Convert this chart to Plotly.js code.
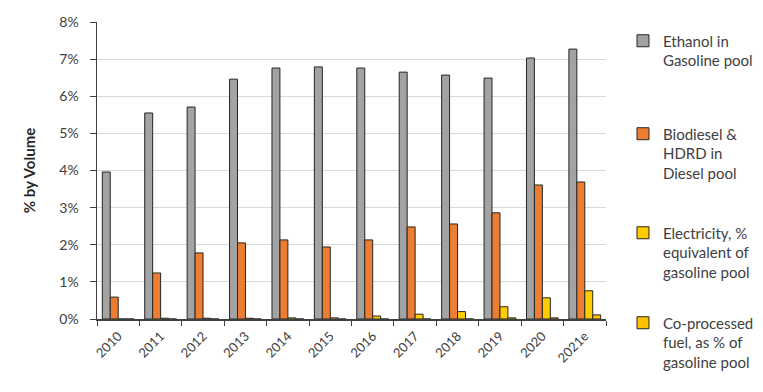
<!DOCTYPE html>
<html>
<head>
<meta charset="utf-8">
<script src="https://cdn.plot.ly/plotly-3.0.1.min.js"></script>
<style>html,body{margin:0;padding:0;background:#fff;}#chart{width:763px;height:392px;}</style>
</head>
<body>
<div id="chart"></div>
<script>
const years = ["2010","2011","2012","2013","2014","2015","2016","2017","2018","2019","2020","2021e"];
const ethanol = [3.96,5.55,5.71,6.46,6.76,6.79,6.76,6.65,6.57,6.49,7.03,7.27];
const biodiesel = [0.59,1.24,1.78,2.05,2.13,1.94,2.13,2.48,2.56,2.86,3.61,3.69];
const electricity = [0.0,0.02,0.02,0.02,0.03,0.03,0.08,0.13,0.20,0.33,0.57,0.76];
const coprocessed = [0.0,0.0,0.0,0.0,0.0,0.0,0.0,0.0,0.0,0.03,0.03,0.11];
const seriesNames = ["Ethanol in<br>Gasoline pool","Biodiesel &amp;<br>HDRD in<br>Diesel pool","Electricity, %<br>equivalent of<br>gasoline pool","Co-processed<br>fuel, as % of<br>gasoline pool"];
const colors = ["#a3a3a3","#ed7d31","#ffcc00","#ffc000"];
const legendIds = ["legend","legend2","legend3","legend4"];
const data = [ethanol, biodiesel, electricity, coprocessed].map((v,i)=>({
  type:"bar", x:years, y:v, name:seriesNames[i], legend:legendIds[i],
  marker:{color:colors[i], line:{color:"#262626", width:1}},
  hoverinfo:"x+y"
}));
const font = "Lato, 'Open Sans', sans-serif";
const legendY = [0.9375, 0.7003, 0.4477, 0.2181];
const layout = {
  width:763, height:392,
  margin:{l:97, r:157, t:22, b:73, autoexpand:false},
  paper_bgcolor:"#fff", plot_bgcolor:"#fff",
  barmode:"group", bargap:0.25, bargroupgap:0,
  font:{family:font, size:13, color:"#404040"},
  xaxis:{type:"category", tickangle:-45, tickson:"boundaries", ticks:"outside", ticklen:5,
    tickcolor:"#404040", showline:true, linecolor:"#404040", linewidth:1.5, showgrid:false,
    tickfont:{size:13, color:"#404040"}, ticklabelstandoff:3},
  yaxis:{range:[0,8], dtick:1, ticksuffix:"%", ticks:"outside", ticklen:6, tickcolor:"#404040",
    showline:true, linecolor:"#404040", linewidth:1.5, gridcolor:"#d9d9d9", zeroline:false,
    tickfont:{size:14, color:"#404040"}, ticklabelstandoff:8,
    title:{text:"<b>% by Volume</b>", font:{size:15, color:"#262626"}, standoff:20}},
  showlegend:true
};
legendIds.forEach((id,i)=>{
  layout[id] = {xref:"container", yref:"container", x:0.8165, xanchor:"left", y:legendY[i], yanchor:"top", valign:"top",
    font:{size:15, color:"#404040"}, bgcolor:"rgba(0,0,0,0)"};
});
Plotly.newPlot("chart", data, layout, {displayModeBar:false, staticPlot:true});
</script>
</body>
</html>
